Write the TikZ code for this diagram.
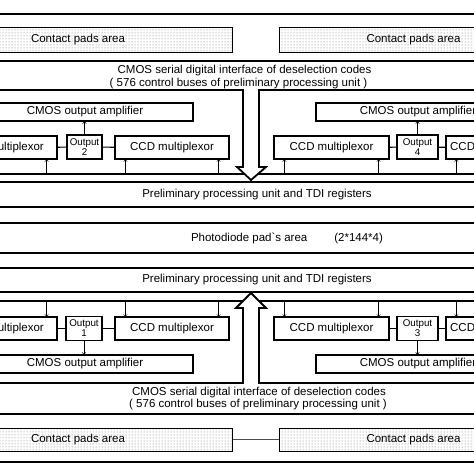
\documentclass[tikz,border=0pt]{standalone}
\usepackage{fontspec}
\setmainfont{Liberation Sans}
\usetikzlibrary{arrows,patterns}
\tikzset{
    box/.style={rectangle,draw,line width=1.2pt,minimum height=23pt,inner sep=0pt,font=\fontsize{11.5}{13}\selectfont},
    outbox/.style={rectangle,draw,line width=1.2pt,minimum height=24pt,inner sep=0pt,align=center,font=\fontsize{9.8}{10}\selectfont},
    pads/.style={rectangle,draw,line width=1pt,pattern=dots,pattern color=black!55,minimum height=25pt,inner sep=0pt,font=\fontsize{11.5}{13}\selectfont},
    band/.style={rectangle,draw,line width=1.5pt,inner sep=0pt,font=\fontsize{11.5}{13}\selectfont},
    frame/.style={line width=1.8pt},
    link/.style={-,line width=1.2pt},
    busarrow/.style={->,> = to,line width=0.6pt},
    label/.style={inner sep=0pt,font=\fontsize{11.5}{13}\selectfont},
}

\begin{document}
\begin{tikzpicture}[x=1pt,y=-1pt]
    \useasboundingbox (0,0) rectangle (474,474);
    \fill[white] (0,0) rectangle (474,474);
    \clip (0,0) rectangle (474,474);

    \draw[frame] (-10,14) -- (484,14);
    \node[pads,minimum width=308] (padsTL) at (78,39.5) {Contact pads area};
    \node[pads,minimum width=269] (padsTR) at (413.5,39.5) {Contact pads area};
    \draw[frame] (-10,61) -- (484,61);
    \node[label] (ifTop1) at (244.5,70.5) {CMOS serial digital interface of deselection codes};
    \node[label] (ifTop2) at (238.5,83.5) {( 576 control buses of preliminary processing unit )};

    \node[box,minimum width=216,minimum height=18] (ampL) at (85,112) {CMOS output amplifier};
    \node[box,minimum width=204,minimum height=18] (ampR) at (418,112) {CMOS output amplifier};
    \node[box,minimum width=110] (muxA) at (2,147.5) {CCD multiplexor};
    \node[outbox,minimum width=35] (out2) at (84.5,147) {Output\\2};
    \node[box,minimum width=114] (muxB) at (172,147.5) {CCD multiplexor};
    \node[box,minimum width=115] (muxC) at (331.5,147.5) {CCD multiplexor};
    \node[outbox,minimum width=41] (out4) at (417.5,147) {Output\\4};
    \node[box,minimum width=92] (muxD) at (492,147.5) {CCD multiplexor};
    \draw[link] (muxA) -- (out2);
    \draw[link] (out2) -- (muxB);
    \draw[link] (muxC) -- (out4);
    \draw[link] (out4) -- (muxD);
    \draw[busarrow] (out2.north) -- (out2.north |- ampL.south);
    \draw[busarrow] (out4.north) -- (out4.north |- ampR.south);

    \coordinate (busU) at (0,174);
    \draw[frame] (-10,174) -- (484,174);
    \foreach \m in {muxA,muxB,muxC,muxD} {
        \draw[busarrow] ([xshift=11]\m.south west |- busU) -- ([xshift=11]\m.south west);
        \draw[busarrow] ([xshift=-11]\m.south east |- busU) -- ([xshift=-11]\m.south east);
    }
    \node[band,minimum width=540,minimum height=25] (prelimU) at (257,194.5) {Preliminary processing unit and TDI registers};
    \draw[frame,fill=white] (-10,90) -- (243,90) -- (243,167) -- (237,167) -- (251,180) -- (266,167) -- (259,167) -- (259,90) -- (484,90);

    \node[band,minimum width=600,minimum height=30] (photo) at (287,238) {Photodiode pad\textasciigrave s area\hspace{27pt}(2*144*4)};

    \node[band,minimum width=540,minimum height=24] (prelimL) at (257,280) {Preliminary processing unit and TDI registers};
    \coordinate (busL) at (0,301);
    \draw[frame] (-10,301) -- (484,301);

    \node[box,minimum width=110] (muxE) at (2,328.5) {CCD multiplexor};
    \node[outbox,minimum width=36] (out1) at (84,328.5) {Output\\1};
    \node[box,minimum width=114] (muxF) at (172,328.5) {CCD multiplexor};
    \node[box,minimum width=115] (muxG) at (331.5,328.5) {CCD multiplexor};
    \node[outbox,minimum width=41] (out3) at (417.5,328.5) {Output\\3};
    \node[box,minimum width=92] (muxH) at (492,328.5) {CCD multiplexor};
    \node[box,minimum width=216,minimum height=18] (ampL2) at (85,364) {CMOS output amplifier};
    \node[box,minimum width=204,minimum height=18] (ampR2) at (418,364) {CMOS output amplifier};
    \draw[link] (muxE) -- (out1);
    \draw[link] (out1) -- (muxF);
    \draw[link] (muxG) -- (out3);
    \draw[link] (out3) -- (muxH);
    \draw[busarrow] (out1.south) -- (out1.south |- ampL2.north);
    \draw[busarrow] (out3.south) -- (out3.south |- ampR2.north);
    \foreach \m in {muxE,muxF,muxG,muxH} {
        \draw[busarrow] ([xshift=11]\m.north west |- busL) -- ([xshift=11]\m.north west);
        \draw[busarrow] ([xshift=-11]\m.north east |- busL) -- ([xshift=-11]\m.north east);
    }
    \draw[frame,fill=white] (-10,383) -- (243,383) -- (243,308) -- (236,308) -- (251,293) -- (266,308) -- (259,308) -- (259,383) -- (484,383);

    \node[label] (ifBot1) at (259,392.5) {CMOS serial digital interface of deselection codes};
    \node[label] (ifBot2) at (258,405) {( 576 control buses of preliminary processing unit )};
    \draw[frame] (-10,414) -- (484,414);
    \node[pads,minimum width=308,minimum height=23] (padsBL) at (78,439.5) {Contact pads area};
    \node[pads,minimum width=269,minimum height=23] (padsBR) at (413.5,439.5) {Contact pads area};
    \draw[line width=0.6pt,black!70] (padsBL) -- (padsBR);
    \draw[frame] (-10,462) -- (484,462);
\end{tikzpicture}
\end{document}
